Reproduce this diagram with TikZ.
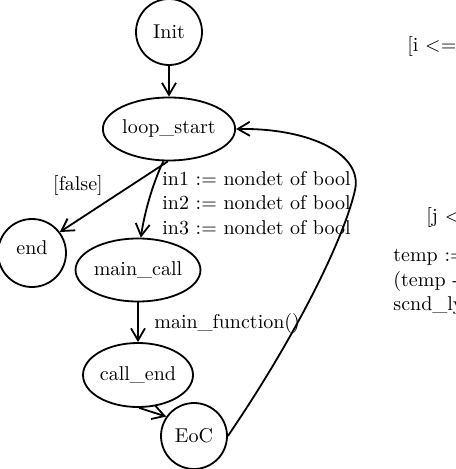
\documentclass[tikz,border=0pt]{standalone}
\usetikzlibrary{shapes.geometric,arrows.meta}
\begin{document}
\begin{tikzpicture}[x=0.5pt,y=-0.5pt,
  every node/.style={font=\fontsize{10}{12.25}\selectfont},
  circ/.style={draw, circle, line width=0.9pt, minimum size=33pt, inner sep=0pt},
  ell/.style={draw, ellipse, line width=0.9pt, inner sep=0pt, minimum width=55pt, minimum height=31.5pt},
  arr/.style={-{Straight Barb[length=6pt,width=7pt]}, line width=0.9pt},
  lbl/.style={inner sep=0pt}]
\useasboundingbox (0,0) rectangle (455,469);
\node[circ] (init) at (169,32) {Init};
\node[ell] (loop) at (169,129) {loop\_start};
\node[circ, minimum size=34pt, text depth=5pt] (end) at (32,253) {end};
\node[ell] (main) at (138,270) {main\_call};
\node[ell, minimum height=32pt] (ce) at (138,375) {call\_end};
\node[circ] (eoc) at (194,436) {EoC};
\draw[arr] (init) -- (loop);
\draw[arr] (loop.268) -- (end.37);
\draw[arr] (loop.260) .. controls (152,185) and (144,215) .. (main.85);
\draw[arr] (main) -- (ce);
\draw[arr] (ce.272) -- (eoc.145);
\draw[arr] (eoc.east) .. controls (300,330) and (345,235) .. (355,190) .. controls (363,154) and (310,128) .. (loop.east);
\node[lbl] (lf) at (78,186) {[false]};
\node[lbl, anchor=west, align=left] (lin) at (162,203) {in1 := nondet of bool\\in2 := nondet of bool\\in3 := nondet of bool};
\node[lbl, anchor=west] (lmf) at (154,323) {main\_function()};
\node[lbl, anchor=west] (ri) at (407,47) {[i <=};
\node[lbl, anchor=west] (rj) at (426,218) {[j <};
\node[lbl, anchor=west, align=left] (rt) at (393,282) {temp :=\\(temp -\\scnd\_ly};
\end{tikzpicture}
\end{document}
